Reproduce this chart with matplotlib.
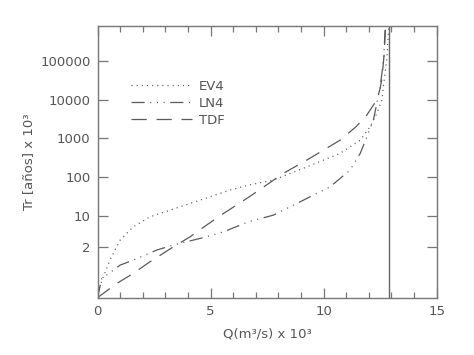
import numpy as np
import matplotlib
matplotlib.use("Agg")
import matplotlib.pyplot as plt
from matplotlib.ticker import FixedLocator, MultipleLocator, NullLocator, FixedFormatter

plt.rcParams['font.family'] = ['DejaVu Sans']
plt.rcParams['lines.scale_dashes'] = False

# ---- data (Q in m3/s x 10^3, Tr in years) ----
q_ev4 = [0.0, 0.035, 0.26, 0.55, 1.0, 1.58, 2.32, 3.21, 4.09, 4.98, 5.86, 6.67,
         7.78, 9.26, 10.73, 11.62, 12.06, 12.35, 12.58, 12.65, 12.80, 12.88, 12.92]
tr_ev4 = [1.0000007, 1.00012, 1.0177, 1.29, 2.75, 5.42, 9.44, 13.8, 20.4, 30.2, 44.8, 60.0,
          81.0, 178.0, 400.0, 880.0, 1960.0, 4360.0, 9700.0, 23900.0, 1.2e5, 8.5e5, 2.0e6]

q_ln4 = [0.0, 0.19, 0.5, 1.0, 1.58, 2.62, 3.35, 4.54, 5.57, 6.67, 7.78, 8.96,
         10.29, 11.17, 11.62, 11.91, 12.20, 12.50, 12.65, 12.72, 12.78]
tr_ln4 = [1.0000007, 1.0115, 1.0375, 1.154, 1.29, 1.79, 2.20, 2.99, 4.16, 7.13, 10.4, 22.5,
          54.6, 147.0, 400.0, 1075.0, 2920.0, 21400.0, 1.06e5, 6.4e5, 2.0e6]

q_tdf = [0.0, 0.85, 1.58, 2.32, 3.35, 4.09, 4.83, 5.57, 6.60, 7.04, 8.22, 9.26,
         10.73, 11.43, 11.91, 12.35, 12.50, 12.58, 12.68, 12.76]
tr_tdf = [1.0000007, 1.00236, 1.0375, 1.238, 2.03, 3.22, 6.0, 11.4, 27.3, 40.5, 121.0, 268.0,
          880.0, 1960.0, 3950.0, 9700.0, 19600.0, 35600.0, 1.6e5, 1.5e6]

q_limit = 12.9

series_labels = ["EV4", "LN4", "TDF"]
y_ticks = [2, 10, 100, 1000, 10000, 100000]
y_ticklabels = ["2", "10", "100", "1000", "10000", "100000"]
x_ticks = [0, 5, 10, 15]


# Gumbel reduced-variate scale for return period
def fwd(t):
    t = np.asarray(t, dtype=float)
    t = np.where(t <= 1.0, 1.0 + 1e-12, t)
    return -np.log(-np.log((t - 1.0) / t))


def inv(u):
    u = np.asarray(u, dtype=float)
    return 1.0 / (-np.expm1(-np.exp(-u)))


gray = '#5a5a5a'
txt = '#555555'

fig = plt.figure(figsize=(4.74, 3.55), dpi=100)
ax = fig.add_axes([0.2057, 0.1614, 0.7156, 0.7662])
ax.set_yscale('function', functions=(fwd, inv))

lw = 0.9
ax.plot(q_ev4, tr_ev4, color=gray, lw=lw, linestyle=(0, (0.8, 2.9)), label=series_labels[0])
ax.plot(q_ln4, tr_ln4, color=gray, lw=lw,
        linestyle=(0, (9.5, 4.0, 0.8, 4.0, 0.8, 4.0, 0.8, 4.0)), label=series_labels[1])
ax.plot(q_tdf, tr_tdf, color=gray, lw=lw, linestyle=(0, (11, 7)), label=series_labels[2])
ax.axvline(q_limit, color='#666666', lw=1.0)

ax.set_xlim(0, 15)
ax.set_ylim(1.0000007, 8.3e5)

ax.xaxis.set_major_locator(FixedLocator(x_ticks))
ax.xaxis.set_minor_locator(MultipleLocator(1))
ax.yaxis.set_major_locator(FixedLocator(y_ticks))
ax.yaxis.set_major_formatter(FixedFormatter(y_ticklabels))
ax.yaxis.set_minor_locator(NullLocator())

ax.tick_params(axis='both', which='both', direction='in', top=True, right=True,
               colors='#777777', labelcolor=txt, labelsize=9.5, width=0.9)
ax.tick_params(axis='both', which='major', length=7, pad=5)
ax.tick_params(axis='x', which='minor', length=4)
for s in ax.spines.values():
    s.set_color('#777777')
    s.set_linewidth(1.0)

ax.set_xlabel("Q(m³/s) x 10³", color=txt, fontsize=9.5, labelpad=7)
ax.set_ylabel("Tr [años] x 10³", color=txt, fontsize=9.5, labelpad=4)

leg = ax.legend(loc='upper left', bbox_to_anchor=(0.099, 0.80), frameon=False,
                borderpad=0, borderaxespad=0, handlelength=4.6, handletextpad=0.55,
                labelspacing=0.3, fontsize=9.5)
for t in leg.get_texts():
    t.set_color(txt)

fig.savefig("out.png", dpi=100)
